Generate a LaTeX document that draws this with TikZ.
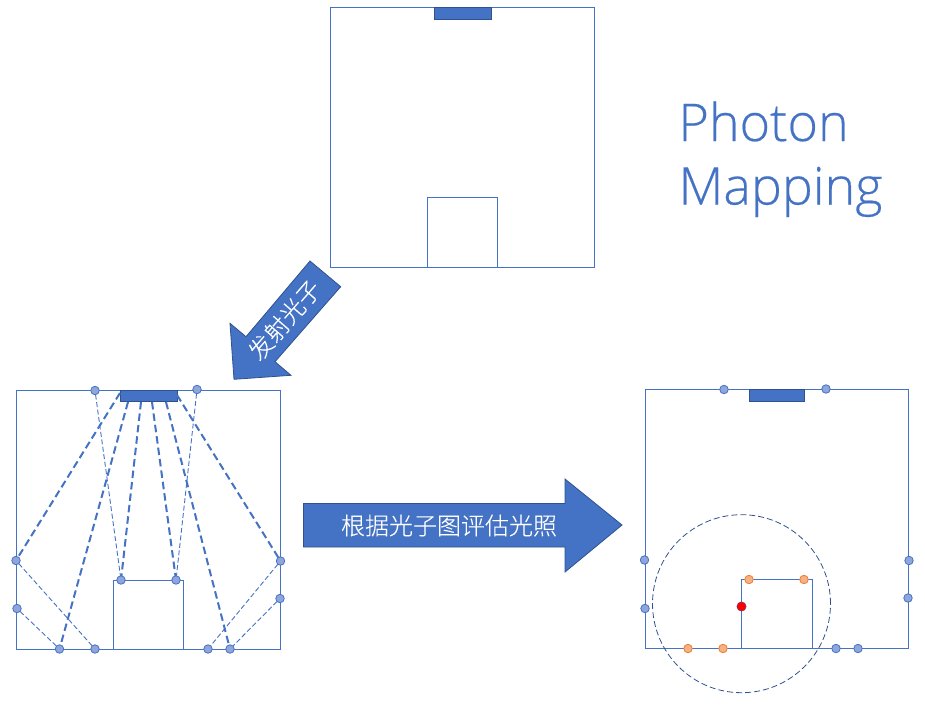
\documentclass[tikz,border=0pt]{standalone}
\usepackage{fontspec}
\setmainfont{Open Sans}[UprightFont={* Light}]
\newfontfamily\cjk{Noto Sans CJK SC}[UprightFont={* Light},FakeBold=0.15]
\definecolor{mainblue}{HTML}{4472C4}
\definecolor{darkblue}{HTML}{2F528F}
\definecolor{dotblue}{HTML}{8FA5DB}
\definecolor{dotorange}{HTML}{F4B183}
\definecolor{edgeorange}{HTML}{ED7D31}
\tikzset{
  every node/.append style={outer sep=0pt},
  room/.style={draw=mainblue,line width=1pt,rectangle,inner sep=0pt,anchor=north west},
  lamp/.style={draw=darkblue,fill=mainblue,line width=1pt,rectangle,inner sep=0pt,anchor=north west},
  thing/.style={draw=mainblue,line width=1pt,rectangle,inner sep=0pt,anchor=north west},
  photon/.style={circle,draw=mainblue,fill=dotblue,line width=0.8pt,inner sep=0pt,minimum size=8.5pt},
  gathered/.style={circle,draw=edgeorange,fill=dotorange,line width=0.8pt,inner sep=0pt,minimum size=8.5pt},
  query/.style={circle,draw=darkblue!50!red,fill=red,line width=0.8pt,inner sep=0pt,minimum size=9pt},
  thickray/.style={draw=mainblue,line width=2pt,dash pattern=on 7.5pt off 4pt},
  thinray/.style={draw=mainblue,line width=0.9pt,dash pattern=on 5pt off 2.5pt},
  bigarrow/.style={draw=darkblue,fill=mainblue,line width=0.8pt,line join=miter},
  arrowtext/.style={text=white,font=\cjk\fontsize{24pt}{28pt}\selectfont,inner sep=0pt},
}
\begin{document}
\begin{tikzpicture}[x=1pt,y=-1pt]
\useasboundingbox (0,0) rectangle (925,704);
% top room
\node[room,minimum width=264pt,minimum height=260pt] (roomA) at (330.5,7.5) {};
\node[lamp,minimum width=57pt,minimum height=12pt] (lampA) at (434,7.5) {};
\node[thing,minimum width=70pt,minimum height=70pt] (boxA) at (427.5,197.5) {};
% left room
\node[room,minimum width=264pt,minimum height=259pt] (roomB) at (16.5,390.5) {};
\node[lamp,minimum width=57pt,minimum height=11pt] (lampB) at (120,390.5) {};
\node[thing,minimum width=70pt,minimum height=69pt] (boxB) at (113.5,580.5) {};
\foreach \n/\x/\y in {b1/95/390.5,b2/197/389.5,b3/16/560.5,b4/17/608.5,b5/59.5/649,b6/95/649,b7/121/580,b8/176/580,b9/280.5/561,b10/280/598.5,b11/208/649,b12/230/649}
  \node[photon] (\n) at (\x,\y) {};
\coordinate (s1) at (120,393);
\coordinate (s2) at (128,402);
\coordinate (s3) at (141,402);
\coordinate (s4) at (152,402);
\coordinate (s5) at (166,402);
\coordinate (s6) at (177,395);
\draw[thickray] (s1) -- (b3);
\draw[thickray] (s2) -- (b5);
\draw[thickray] (s3) -- (b7);
\draw[thickray] (s4) -- (b8);
\draw[thickray] (s5) -- (b12);
\draw[thickray] (s6) -- (b9);
\draw[thinray] (b1) -- (b7);
\draw[thinray] (b2) -- (b8);
\draw[thinray] (b3) -- (b6);
\draw[thinray] (b4) -- (b5);
\draw[thinray] (b9) -- (b11);
\draw[thinray] (b10) -- (b12);
% right room
\node[room,minimum width=263pt,minimum height=259pt] (roomC) at (645.5,389.5) {};
\node[lamp,minimum width=55pt,minimum height=12pt] (lampC) at (749.5,389.5) {};
\node[thing,minimum width=71pt,minimum height=69pt] (boxC) at (741.5,579.5) {};
\node[circle,draw=darkblue,line width=0.8pt,dash pattern=on 6pt off 3pt,inner sep=0pt,minimum size=178pt] (gather) at (741.5,603.7) {};
\foreach \n/\x/\y in {c1/724/389.5,c2/826/389,c3/644.5/560,c4/645/608.5,c5/909/560.5,c6/908/598,c7/836/648.5,c8/858/648.5}
  \node[photon] (\n) at (\x,\y) {};
\foreach \n/\x/\y in {o1/749/579.5,o2/804/579.5,o3/688/648.5,o4/723/648.5}
  \node[gathered] (\n) at (\x,\y) {};
\node[query] (q) at (741.5,606.5) {};
% arrows
\draw[bigarrow] (310,261) -- (340.7,286.7) -- (275,361.7) -- (291,375.3) -- (234,379.3) -- (230,323.3) -- (246,336.7) -- cycle;
\node[arrowtext,rotate=49] (lblA) at (284.5,320) {发射光子};
\draw[bigarrow] (303.5,503.5) -- (565,503.5) -- (565,479) -- (622,525) -- (565,572) -- (565,547) -- (303.5,547) -- cycle;
\node[arrowtext] (lblB) at (449,525.5) {根据光子图评估光照};
% title
\node[text=mainblue,font=\fontsize{52pt}{63.5pt}\selectfont\addfontfeature{FakeBold=0.35},anchor=north west,inner sep=0pt,align=left] (title) at (678.5,101.5) {Photon\\Mapping};
\end{tikzpicture}
\end{document}
